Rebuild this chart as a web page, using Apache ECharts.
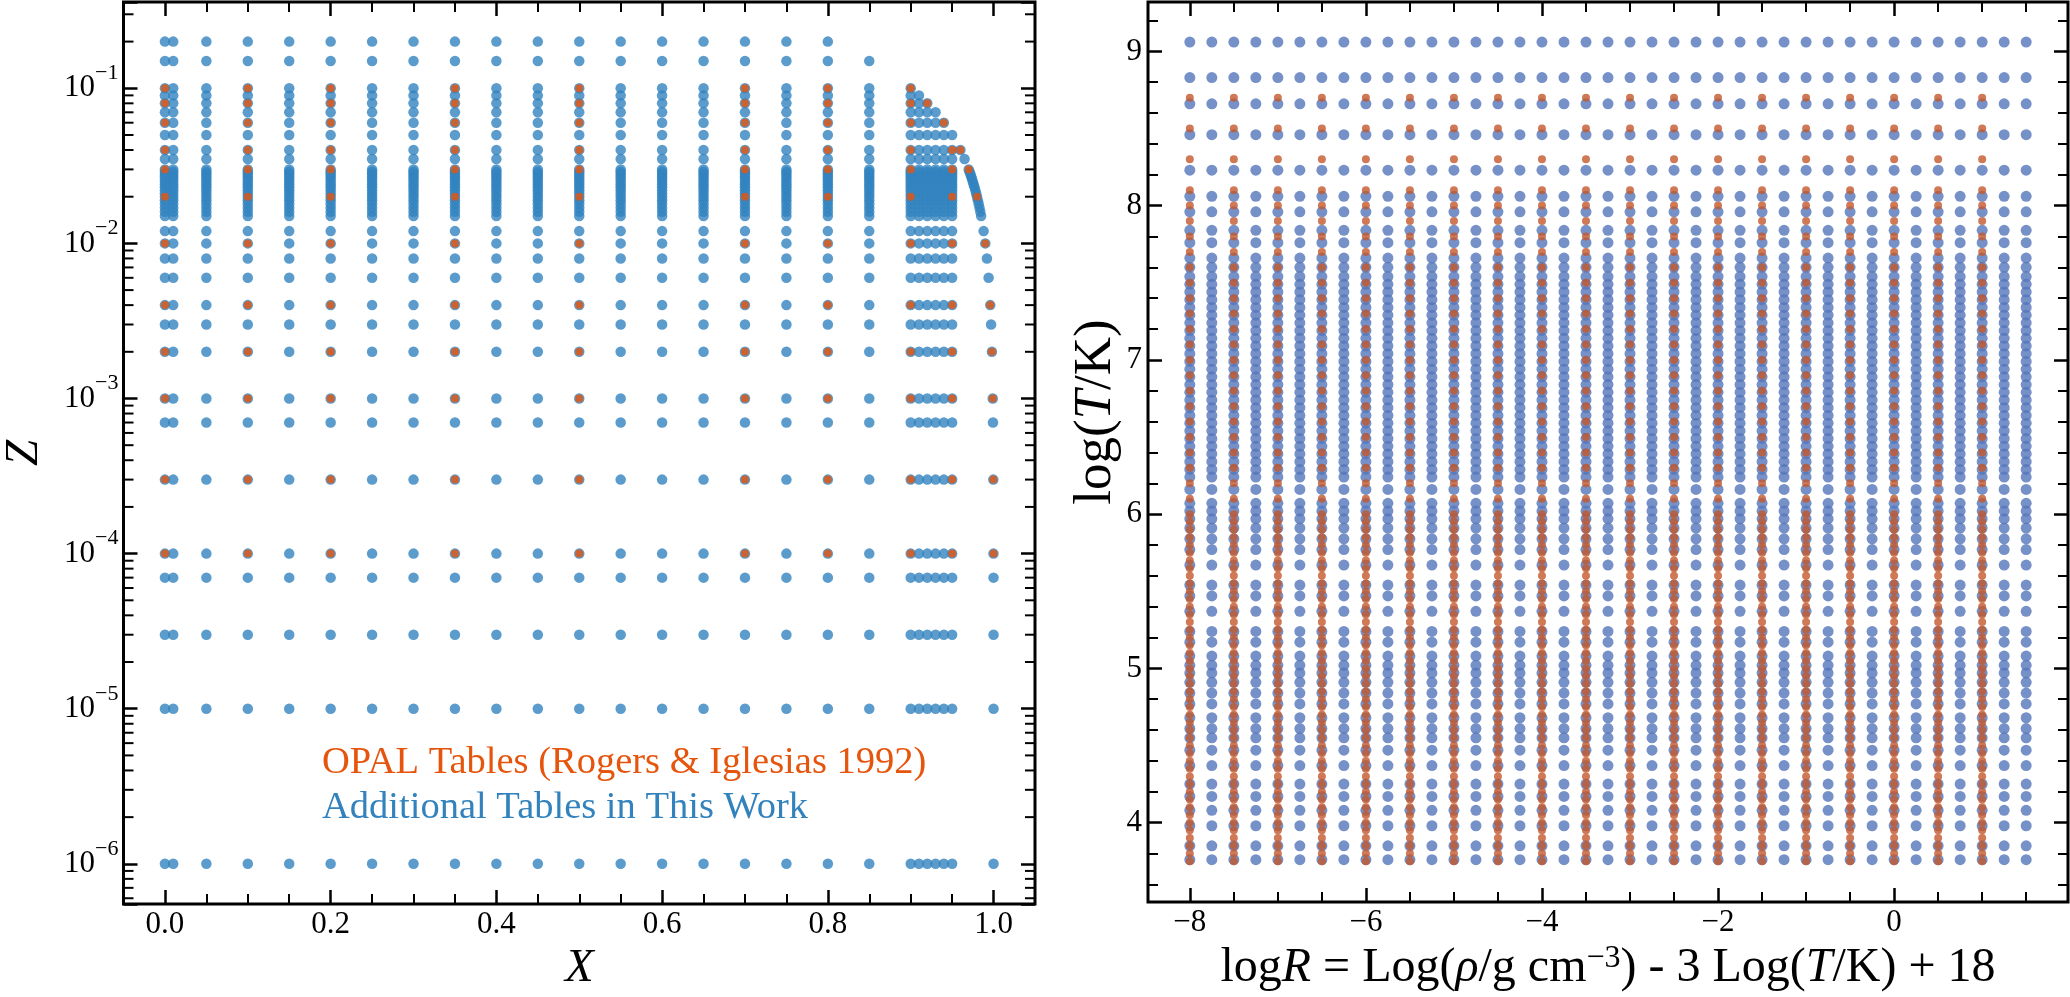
<!DOCTYPE html>
<html>
<head>
<meta charset="utf-8">
<script src="https://cdn.jsdelivr.net/npm/echarts@6/dist/echarts.min.js"></script>
<style>
html,body{margin:0;padding:0;background:#ffffff;}
#chart{width:2070px;height:997px;}
</style>
</head>
<body>
<div id="chart"></div>
<script>
// ---------------- data ----------------
// Left panel: composition grid (X hydrogen, Z metals)
const tableX = [0, 0.01, 0.05, 0.1, 0.15, 0.2, 0.25, 0.3, 0.35, 0.4, 0.45, 0.5, 0.55, 0.6, 0.65, 0.7, 0.75, 0.8, 0.85, 0.9, 0.91, 0.92, 0.93, 0.94, 0.95];
const tableZ = [1e-6, 1e-5, 3e-5, 7e-5, 1e-4, 3e-4, 7e-4, 1e-3, 2e-3, 3e-3, 4e-3, 6e-3, 8e-3, 0.01, 0.012,
  0.015, 0.016, 0.017, 0.018, 0.019, 0.02, 0.021, 0.022, 0.023, 0.024, 0.025, 0.026, 0.027, 0.028, 0.029, 0.03,
  0.035, 0.04, 0.05, 0.06, 0.07, 0.08, 0.09, 0.1, 0.15, 0.2];
const opalX = [0, 0.1, 0.2, 0.35, 0.5, 0.7, 0.8, 0.9, 0.95];
const opalZ = [1e-4, 3e-4, 1e-3, 2e-3, 4e-3, 0.01, 0.02, 0.03, 0.04, 0.06, 0.08, 0.1];

// Right panel: logR / logT grid
const tableLogR = [-8, -7.75, -7.5, -7.25, -7, -6.75, -6.5, -6.25, -6, -5.75, -5.5, -5.25, -5, -4.75, -4.5, -4.25,
  -4, -3.75, -3.5, -3.25, -3, -2.75, -2.5, -2.25, -2, -1.75, -1.5, -1.25, -1, -0.75, -0.5, -0.25,
  0, 0.25, 0.5, 0.75, 1, 1.25, 1.5];
const tableLogT = [9.06, 8.83, 8.66, 8.46, 8.23, 8.06, 7.96, 7.84, 7.76, 7.66, 7.60, 7.54, 7.49, 7.44, 7.39, 7.34,
  7.29, 7.24, 7.19, 7.14, 7.09, 7.04, 6.99, 6.94, 6.89, 6.84, 6.79, 6.74, 6.69, 6.64, 6.59, 6.54, 6.49, 6.44,
  6.39, 6.34, 6.29, 6.24, 6.16, 6.07, 6.02, 5.97, 5.91, 5.84, 5.77, 5.67, 5.54, 5.47, 5.37, 5.24, 5.17, 5.08,
  5.02, 4.97, 4.91, 4.84, 4.77, 4.68, 4.61, 4.55, 4.47, 4.37, 4.25, 4.17, 4.08, 3.98, 3.85, 3.76];
const opalLogR = [-8, -7.5, -7, -6.5, -6, -5.5, -5, -4.5, -4, -3.5, -3, -2.5, -2, -1.5, -1, -0.5, 0, 0.5, 1];
const opalLogT = [3.75, 3.80, 3.85, 3.90, 3.95, 4.00, 4.05, 4.10, 4.15, 4.20, 4.25, 4.30, 4.35, 4.40, 4.45, 4.50,
  4.55, 4.60, 4.65, 4.70, 4.75, 4.80, 4.85, 4.90, 4.95, 5.00, 5.05, 5.10, 5.15, 5.20, 5.25, 5.30, 5.35, 5.40,
  5.45, 5.50, 5.55, 5.60, 5.65, 5.70, 5.75, 5.80, 5.85, 5.90, 5.95, 6.00, 6.10, 6.20, 6.30, 6.40, 6.50, 6.60,
  6.70, 6.80, 6.90, 7.00, 7.10, 7.20, 7.30, 7.40, 7.50, 7.60, 7.70, 7.80, 7.90, 8.00, 8.10, 8.30, 8.50, 8.70];

// tick values
const xMajorL = [0, 0.2, 0.4, 0.6, 0.8, 1.0];
const xMinorL = [0.05, 0.1, 0.15, 0.25, 0.3, 0.35, 0.45, 0.5, 0.55, 0.65, 0.7, 0.75, 0.85, 0.9, 0.95];
const zMinor = [6e-7, 7e-7, 8e-7, 9e-7,
  2e-6, 3e-6, 4e-6, 5e-6, 6e-6, 7e-6, 8e-6, 9e-6,
  2e-5, 3e-5, 4e-5, 5e-5, 6e-5, 7e-5, 8e-5, 9e-5,
  2e-4, 3e-4, 4e-4, 5e-4, 6e-4, 7e-4, 8e-4, 9e-4,
  2e-3, 3e-3, 4e-3, 5e-3, 6e-3, 7e-3, 8e-3, 9e-3,
  2e-2, 3e-2, 4e-2, 5e-2, 6e-2, 7e-2, 8e-2, 9e-2,
  2e-1, 3e-1];
const xMajorR = [-8, -6, -4, -2, 0];
const xMinorR = [-7.5, -7, -6.5, -5.5, -5, -4.5, -3.5, -3, -2.5, -1.5, -1, -0.5, 0.5, 1, 1.5];
const yMajorR = [4, 5, 6, 7, 8, 9];
const yMinorR = [3.6, 3.8, 4.2, 4.4, 4.6, 4.8, 5.2, 5.4, 5.6, 5.8, 6.2, 6.4, 6.6, 6.8, 7.2, 7.4, 7.6, 7.8, 8.2, 8.4, 8.6, 8.8, 9.2];

const OPAL_NAME = 'OPAL Tables (Rogers & Iglesias 1992)';
const ADD_NAME = 'Additional Tables in This Work';

// axis ranges
const xLimL = [-0.05, 1.05];
const zLim = [5.5e-7, 0.36];
const xLimR = [-8.475, 1.975];
const yLimR = [3.485, 9.32];

// ---------------- build point tables ----------------
function compositionGrid(xs, zs) {
  const out = [];
  zs.forEach(z => {
    const cols = xs.filter(x => x + z <= 1 + 1e-9);
    const xe = +(1 - z).toFixed(8);           // the X = 1 - Z table
    if (!cols.some(x => Math.abs(x - xe) < 1e-9)) cols.push(xe);
    cols.forEach(x => out.push([x, z]));
  });
  return out;
}
function rectGrid(xs, ys) {
  const out = [];
  ys.forEach(y => xs.forEach(x => out.push([x, y])));
  return out;
}
const leftBlue = compositionGrid(tableX, tableZ);
const leftOrange = compositionGrid(opalX, opalZ);
const rightBlue = rectGrid(tableLogR, tableLogT);
const rightOrange = rectGrid(opalLogR, opalLogT);

// ---------------- styling helpers ----------------
const FONT = 'Liberation Serif';
const MAJ = 14, MIN = 10;
function axis(kind, gridIndex, position, min, max, ticks, len, label) {
  const a = {
    type: kind, gridIndex, position, min, max,
    axisLine: {show: false, onZero: false},
    splitLine: {show: false},
    axisTick: {show: true, inside: true, length: len, lineStyle: {color: '#000', width: len === MAJ ? 2.5 : 2}},
    axisLabel: {show: false},
    axisPointer: {show: false}
  };
  if (ticks) a.axisTick.customValues = ticks;
  if (label) a.axisLabel = label;
  if (kind === 'log') { a.logBase = 10; a.splitNumber = 6; }
  return a;
}
const tickLabel = (values, formatter, margin) => ({
  show: true, customValues: values, formatter, margin,
  color: '#000', fontFamily: FONT, fontSize: 31
});
function nameStyle(fs, lh) {
  return {
    fontFamily: FONT, fontSize: fs, color: '#000',
    rich: {
      r: {fontFamily: FONT, fontSize: fs, lineHeight: lh, color: '#000'},
      i: {fontFamily: FONT, fontSize: fs, lineHeight: lh, fontStyle: 'italic', color: '#000'},
      s: {fontFamily: FONT, fontSize: Math.round(fs * 0.66), lineHeight: Math.round(fs * 0.62), verticalAlign: 'top', color: '#000'}
    }
  };
}
const minus = v => (v < 0 ? '\u2212' : '') + Math.abs(v);

// ---------------- axes ----------------
const xL0 = axis('value', 0, 'bottom', xLimL[0], xLimL[1], xMajorL, MAJ, tickLabel(xMajorL, v => v.toFixed(1), 5));
xL0.name = '{i|X}'; xL0.nameLocation = 'middle'; xL0.nameGap = 36; xL0.nameTextStyle = nameStyle(47, 50);
const xR0 = axis('value', 1, 'bottom', xLimR[0], xLimR[1], xMajorR, MAJ, tickLabel(xMajorR, minus, 5));
xR0.name = '{r|log}{i|R}{r| = Log(}{i|\u03c1}{r|/g cm}{s|\u22123}{r|) - 3 Log(}{i|T}{r|/K) + 18}';
xR0.nameLocation = 'middle'; xR0.nameGap = 35; xR0.nameTextStyle = nameStyle(48, 50);

const xAxes = [
  xL0,
  axis('value', 0, 'bottom', xLimL[0], xLimL[1], xMinorL, MIN),
  axis('value', 0, 'top', xLimL[0], xLimL[1], xMajorL, MAJ),
  axis('value', 0, 'top', xLimL[0], xLimL[1], xMinorL, MIN),
  xR0,
  axis('value', 1, 'bottom', xLimR[0], xLimR[1], xMinorR, MIN),
  axis('value', 1, 'top', xLimR[0], xLimR[1], xMajorR, MAJ),
  axis('value', 1, 'top', xLimR[0], xLimR[1], xMinorR, MIN)
];

const yL0 = axis('log', 0, 'left', zLim[0], zLim[1], null, MAJ, {
  show: true, margin: 5, color: '#000',
  formatter: v => {
    const e = Math.log10(v);
    if (Math.abs(e - Math.round(e)) > 1e-6) return '';
    return '{b|10}{s|\u2212' + Math.abs(Math.round(e)) + '}';
  },
  rich: {
    b: {fontFamily: FONT, fontSize: 31, lineHeight: 52, color: '#000'},
    s: {fontFamily: FONT, fontSize: 22, lineHeight: 22, verticalAlign: 'top', color: '#000'}
  }
});
yL0.name = '{i|Z}'; yL0.nameLocation = 'middle'; yL0.nameGap = 74; yL0.nameRotate = 90; yL0.nameTextStyle = nameStyle(47, 50);
const yR0 = axis('value', 1, 'left', yLimR[0], yLimR[1], yMajorR, MAJ, tickLabel(yMajorR, v => String(v), 6));
yR0.name = '{r|log(}{i|T}{r|/K)}'; yR0.nameLocation = 'middle'; yR0.nameGap = 21; yR0.nameRotate = 90;
yR0.nameTextStyle = Object.assign(nameStyle(53, 56), {padding: [0, 0, 0, 80]});

const yAxes = [
  yL0,
  axis('log', 0, 'right', zLim[0], zLim[1], null, MAJ),
  yR0,
  axis('value', 1, 'left', yLimR[0], yLimR[1], yMinorR, MIN),
  axis('value', 1, 'right', yLimR[0], yLimR[1], yMajorR, MAJ),
  axis('value', 1, 'right', yLimR[0], yLimR[1], yMinorR, MIN)
];

// ---------------- chart ----------------
const chart = echarts.init(document.getElementById('chart'), null, {renderer: 'canvas'});
chart.setOption({
  animation: false,
  backgroundColor: '#ffffff',
  textStyle: {fontFamily: FONT},
  grid: [
    {left: 115, top: 2, width: 920, height: 905, show: true, borderColor: '#000', borderWidth: 3, backgroundColor: 'transparent'},
    {left: 1148, top: 2, width: 920, height: 905, show: true, borderColor: '#000', borderWidth: 3, backgroundColor: 'transparent'}
  ],
  legend: {
    orient: 'vertical', left: 312, top: 738, itemGap: 5,
    icon: 'none', itemWidth: 0, itemHeight: 0, selectedMode: false,
    textStyle: {fontFamily: FONT, fontSize: 38.5, lineHeight: 40},
    data: [
      {name: OPAL_NAME, icon: 'none', textStyle: {color: '#e6550d'}},
      {name: ADD_NAME, icon: 'none', textStyle: {color: '#3182bd'}}
    ]
  },
  xAxis: xAxes,
  yAxis: yAxes,
  series: [
    {name: ADD_NAME, type: 'scatter', xAxisIndex: 0, yAxisIndex: 0, data: leftBlue,
     symbolSize: 10.5, itemStyle: {color: '#3283bf'}, progressive: 0, silent: true},
    {name: OPAL_NAME, type: 'scatter', xAxisIndex: 0, yAxisIndex: 0, data: leftOrange,
     symbolSize: 8, itemStyle: {color: '#e6550d'}, progressive: 0, silent: true},
    {type: 'custom', xAxisIndex: 0, yAxisIndex: 0, silent: true, z: 5,
     data: zMinor.map(z => [xLimL[0], z]), encode: {x: 0, y: 1},
     renderItem: (params, api) => {
       const z = api.value(1);
       const pL = api.coord([xLimL[0], z]);
       const pR = api.coord([xLimL[1], z]);
       const st = {stroke: '#000', lineWidth: 2};
       return {type: 'group', children: [
         {type: 'line', shape: {x1: pL[0], y1: pL[1], x2: pL[0] + MIN, y2: pL[1]}, style: st},
         {type: 'line', shape: {x1: pR[0], y1: pR[1], x2: pR[0] - MIN, y2: pR[1]}, style: st}
       ]};
     }},
    {name: ADD_NAME, type: 'scatter', xAxisIndex: 4, yAxisIndex: 2, data: rightBlue,
     symbolSize: 11, itemStyle: {color: '#5475ba'}, progressive: 0, large: false, silent: true},
    {name: OPAL_NAME, type: 'scatter', xAxisIndex: 4, yAxisIndex: 2, data: rightOrange,
     symbolSize: 8, itemStyle: {color: '#c4582c'}, progressive: 0, large: false, silent: true}
  ]
});
</script>
</body>
</html>
